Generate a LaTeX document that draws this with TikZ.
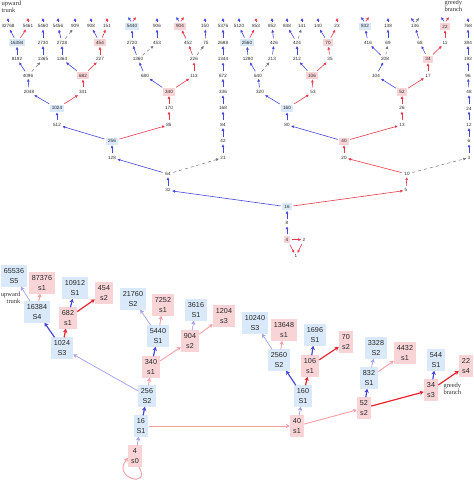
\documentclass[tikz,border=0pt]{standalone}
\usepackage{fontspec}
\setsansfont{Liberation Sans}
\newfontfamily\notefont{Liberation Serif}
\usetikzlibrary{arrows.meta,positioning,calc}
\definecolor{trblue}{HTML}{4646DC}
\definecolor{trred}{HTML}{E8384A}
\definecolor{trgrey}{HTML}{6E7480}
\definecolor{boxblue}{HTML}{D9E9F9}
\definecolor{boxpink}{HTML}{F9D4D7}
\definecolor{softblue}{HTML}{A0A0EE}
\definecolor{softred}{HTML}{F2A0A6}
\definecolor{hardred}{HTML}{E6232F}

\begin{document}
\begin{tikzpicture}[x=1pt, y=1pt,
  num/.style={font=\sffamily\fontsize{4.6}{5}\selectfont, inner sep=1.2pt, text=black!85},
  bnum/.style={num, fill=boxblue, inner sep=2pt},
  rnum/.style={num, fill=boxpink, inner sep=2pt},
  up/.style={-{Latex[length=3pt,width=3pt]}, line width=0.6pt, shorten <=1.5pt},
  gnode/.style={font=\sffamily\fontsize{7.2}{10}\selectfont, align=center,
                inner sep=3pt, text=black!85},
  gb/.style={gnode, fill=boxblue},
  gr/.style={gnode, fill=boxpink},
  tip/.style={-{Stealth[length=4pt,width=4.5pt]}},
  bstrong/.style={tip, trblue, line width=1.2pt},
  bweak/.style={tip, softblue, line width=0.7pt},
  rstrong/.style={tip, hardred, line width=1.2pt},
  rweak/.style={tip, softred, line width=0.9pt},
  note/.style={font=\notefont\fontsize{6.5}{7}\selectfont, text=black!80},
]
\useasboundingbox (0,0) rectangle (474,-483);

%% ---- Upper tree: plain numbers (name/x/row) ----
\foreach \n/\x/\k in {1/296/0, 2/304/1, 8/287/2, 32/168/4, 5/406/4, 64/168/5, 10/407/5,
    128/112/6, 21/223/6, 20/344/6, 3/469/6, 42/223/7, 6/469/7,
    512/57/8, 85/169/8, 84/223/8, 80/287/8, 13/402/8, 12/469/8,
    170/169/9, 168/223/9, 26/402/9, 24/469/9,
    2048/29/10, 341/83/10, 336/223/10, 320/260/10, 53/313/10, 48/469/10,
    4096/28/11, 680/145/11, 113/194/11, 672/223/11, 640/258/11, 104/376/11, 17/428/11, 96/468/11,
    8192/17/12, 1365/43/12, 1364/62/12, 227/100/12, 1360/138/12, 226/194/12, 1344/223/12,
    1280/248/12, 213/272/12, 212/297/12, 35/330/12, 208/385/12, 192/468/12,
    2730/43/13, 2728/62/13, 2720/132/13, 453/157/13, 452/188/13, 75/206/13, 2688/223/13,
    426/274/13, 424/297/13, 416/368/13, 69/388/13, 68/420/13, 11/445/13, 384/468/13,
    32768/8/14, 5461/28/14, 5460/43/14, 5456/58/14, 909/75/14, 908/91/14, 151/107/14,
    906/157/14, 150/205/14, 5376/223/14, 5120/239/14, 853/256/14, 852/272/14, 848/287/14,
    141/302/14, 140/318/14, 23/337/14, 138/388/14, 136/415/14, 768/468/14}
  \node[num] (t\n) at (\x,{16.4*\k-256}) {\n};

%% ---- Upper tree: split points ----
\foreach \n/\x/\k in {16/287/3, 256/112/7, 1024/57/9, 160/287/9, 16384/17/13,
    2560/247/13, 5440/132/14, 832/365/14}
  \node[bnum] (t\n) at (\x,{16.4*\k-256}) {\n};
\foreach \n/\x/\k in {4/287/1, 40/344/7, 340/169/10, 52/402/10, 682/83/11, 106/312/11,
    34/428/12, 454/100/13, 70/328/13, 904/180/14, 22/445/14}
  \node[rnum] (t\n) at (\x,{16.4*\k-256}) {\n};

%% ---- Upper tree: doubling steps ----
\foreach \a/\b in {4/8, 8/16, 16/32, 32/64, 64/128, 128/256, 256/512, 512/1024,
    1024/2048, 2048/4096, 4096/8192, 8192/16384, 16384/32768,
    40/80, 80/160, 160/320, 320/640, 640/1280, 1280/2560, 2560/5120,
    52/104, 104/208, 208/416, 416/832, 34/68, 68/136,
    340/680, 680/1360, 1360/2720, 2720/5440, 682/1364, 1364/2728, 2728/5456,
    454/908, 106/212, 212/424, 424/848, 70/140,
    3/6, 6/12, 12/24, 24/48, 48/96, 96/192, 192/384, 384/768,
    21/42, 42/84, 84/168, 168/336, 336/672, 672/1344, 1344/2688, 2688/5376,
    1365/2730, 2730/5460, 453/906, 75/150, 213/426, 426/852, 69/138}
  \draw[up, trblue] (t\a) -- (t\b);

%% ---- Upper tree: greedy (red) steps ----
\foreach \a/\b in {4/1, 2/1, 4/2, 16/5, 5/10, 10/20, 20/40, 40/13, 13/26, 26/52, 52/17,
    17/34, 34/11, 11/22, 256/85, 85/170, 170/340, 340/113, 113/226, 226/452,
    452/904, 1024/341, 341/682, 682/227, 227/454, 454/151, 160/53, 53/106,
    106/35, 35/70, 70/23, 2560/853, 16384/5461}
  \draw[up, trred] (t\a) -- (t\b);

%% ---- Upper tree: dead ends (multiples of 3) ----
\foreach \a/\b in {64/21, 10/3, 4096/1365, 2728/909, 1360/453, 226/75, 640/213,
    424/141, 208/69}
  \draw[up, trgrey, dashed, line width=0.5pt] (t\a) -- (t\b);

%% ---- Upper tree: steps leaving the frame ----
\foreach \n/\c in {32768/trblue, 5461/trred, 5460/trblue, 5456/trblue, 909/trblue,
    908/trblue, 151/trred, 906/trblue, 150/trblue, 5376/trblue, 5120/trblue,
    853/trred, 852/trblue, 848/trblue, 141/trblue, 140/trblue, 23/trred,
    138/trblue, 768/trblue}
{
  \coordinate (o\n) at ([yshift=5.5pt]t\n.north);
  \draw[up, \c] (t\n.north) -- (o\n);
}
\foreach \n/\c in {5440/trred, 904/trred, 832/trred, 22/trred, 136/trgrey}
{
  \coordinate (ol\n) at ([xshift=-4pt,yshift=5.5pt]t\n.north);
  \coordinate (or\n) at ([xshift=4pt,yshift=5.5pt]t\n.north);
  \draw[up, trblue] (t\n.north) -- (ol\n);
  \draw[up, \c] (t\n.north) -- (or\n);
}

\node[note, align=left, anchor=west] (upA) at (-2,-7) {upward\\trunk};
\node[note, align=left, anchor=west] (grA) at (441,-6) {greedy\\branch};

%% ---- Lower graph: compressed splits ----
\node[gb] (g65536) at (14,-276)  {65536\\S5};
\node[gr] (g87376) at (42,-283)  {87376\\s1};
\node[gb] (g10912) at (75,-288)  {10912\\S1};
\node[gr] (g454)   at (104,-293) {454\\s2};
\node[gb] (g16384) at (37,-312)  {16384\\S4};
\node[gr] (g682)   at (68,-318)  {682\\s1};
\node[gb] (g1024)  at (62,-348)  {1024\\S3};
\node[gb] (g21760) at (133,-299) {21760\\S2};
\node[gr] (g7252)  at (163,-305) {7252\\s1};
\node[gb] (g3616)  at (196,-310) {3616\\S1};
\node[gr] (g1204)  at (224,-316) {1204\\s3};
\node[gb] (g5440)  at (158,-336) {5440\\S1};
\node[gr] (g904)   at (190,-341) {904\\s2};
\node[gr] (g340)   at (151,-367) {340\\s1};
\node[gb] (g10240) at (255,-323) {10240\\S3};
\node[gr] (g13648) at (284,-330) {13648\\s1};
\node[gb] (g2560)  at (279,-360) {2560\\S2};
\node[gb] (g1696)  at (315,-335) {1696\\S1};
\node[gr] (g106)   at (310,-366) {106\\s1};
\node[gr] (g70)    at (346,-342) {70\\s2};
\node[gb] (g3328)  at (376,-348) {3328\\S2};
\node[gr] (g4432)  at (405,-353) {4432\\s1};
\node[gb] (g832)   at (369,-378) {832\\S1};
\node[gb] (g544)   at (436,-360) {544\\S1};
\node[gr] (g22)    at (466,-366) {22\\s4};
\node[gr] (g34)    at (431,-390) {34\\s3};
\node[gb] (g160)   at (303,-396) {160\\S1};
\node[gr] (g40)    at (297,-426) {40\\s1};
\node[gr] (g52)    at (364,-408) {52\\s2};
\node[gb] (g256)   at (147,-396) {256\\S2};
\node[gb] (g16)    at (141,-426) {16\\S1};
\node[gr] (g4)     at (135,-456) {4\\s0};

\node[note, align=right, anchor=east] (upB) at (24,-298) {upward\\trunk};
\node[note, align=left, anchor=west] (grB) at (440,-389) {greedy\\branch};

%% ---- Lower graph: edges ----
\draw[bweak]   (g16384) -- (g65536);
\draw[rweak]   (g16384) -- (g87376);
\draw[bstrong] (g1024)  -- (g16384);
\draw[rstrong] (g1024)  -- (g682);
\draw[bstrong] (g682)   -- (g10912);
\draw[rstrong] (g682)   -- (g454);
\draw[bweak]   (g256)   -- (g1024);
\draw[rweak]   (g256)   -- (g340);
\draw[bstrong] (g340)   -- (g5440);
\draw[rweak]   (g340)   -- (g904);
\draw[bweak]   (g5440)  -- (g21760);
\draw[rweak]   (g5440)  -- (g7252);
\draw[bweak]   (g904)   -- (g3616);
\draw[rweak]   (g904)   -- (g1204);
\draw[bstrong] (g16)    -- (g256);
\draw[rweak]   (g16)    -- (g40);
\draw[bweak]   (g4)     -- (g16);
\draw[rweak]   (g4.-70) .. controls +(-60:26) and +(230:26) .. (g4.195);
\draw[bweak]   (g40)    -- (g160);
\draw[rweak]   (g40)    -- (g52);
\draw[bstrong] (g160)   -- (g2560);
\draw[rstrong] (g160)   -- (g106);
\draw[bweak]   (g2560)  -- (g10240);
\draw[rweak]   (g2560)  -- (g13648);
\draw[bstrong] (g106)   -- (g1696);
\draw[rstrong] (g106)   -- (g70);
\draw[bstrong] (g52)    -- (g832);
\draw[rstrong] (g52)    -- (g34);
\draw[bweak]   (g832)   -- (g3328);
\draw[rweak]   (g832)   -- (g4432);
\draw[bstrong] (g34)    -- (g544);
\draw[rstrong] (g34)    -- (g22);

\end{tikzpicture}
\end{document}
